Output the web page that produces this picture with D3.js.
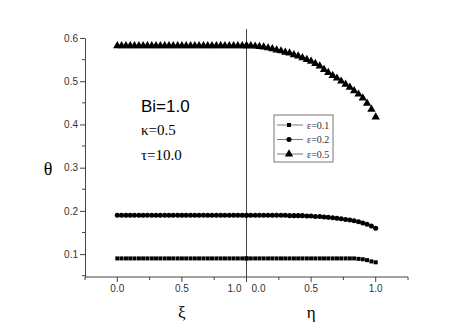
<!DOCTYPE html>
<html>
<head>
<meta charset="utf-8">
<script src="https://cdn.jsdelivr.net/npm/d3@7"></script>
<style>
  body { margin: 0; background: #fff; }
  svg { display: block; }
  .tick-label { font-family: Arial, "Liberation Sans", sans-serif; font-size: 10px; fill: #333; }
  .serif { font-family: "Liberation Serif", "Times New Roman", serif; }
</style>
</head>
<body>
<div id="chart"></div>
<script>
const width = 474;
const height = 331;

// Data ==============================================================
// grid of the two coordinates (xi on the left half, eta on the right half)
const grid = [0.000, 0.033, 0.067, 0.100, 0.133, 0.167, 0.200, 0.233, 0.267, 0.300, 0.333,
	0.367, 0.400, 0.433, 0.467, 0.500, 0.533, 0.567, 0.600, 0.633, 0.667, 0.700,
	0.733, 0.767, 0.800, 0.833, 0.867, 0.900, 0.933, 0.967, 1.000];

// theta along xi
const xiEps01 = [0.090, 0.090, 0.090, 0.090, 0.090, 0.090, 0.090, 0.090, 0.090, 0.090, 0.090,
	0.090, 0.090, 0.090, 0.090, 0.090, 0.090, 0.090, 0.090, 0.090, 0.090, 0.090,
	0.090, 0.090, 0.090, 0.090, 0.090, 0.090, 0.090, 0.090, 0.090];
const xiEps02 = [0.190, 0.190, 0.190, 0.190, 0.190, 0.190, 0.190, 0.190, 0.190, 0.190, 0.190,
	0.190, 0.190, 0.190, 0.190, 0.190, 0.190, 0.190, 0.190, 0.190, 0.190, 0.190,
	0.190, 0.190, 0.190, 0.190, 0.190, 0.190, 0.190, 0.190, 0.190];
const xiEps05 = [0.582, 0.582, 0.582, 0.582, 0.582, 0.582, 0.582, 0.582, 0.582, 0.582, 0.582,
	0.582, 0.582, 0.582, 0.582, 0.582, 0.582, 0.582, 0.582, 0.582, 0.582, 0.582,
	0.582, 0.582, 0.582, 0.582, 0.582, 0.582, 0.582, 0.582, 0.582];

// theta along eta
const etaEps01 = [0.090, 0.090, 0.090, 0.090, 0.090, 0.090, 0.090, 0.090, 0.090, 0.090, 0.090,
	0.090, 0.090, 0.090, 0.090, 0.090, 0.090, 0.090, 0.090, 0.090, 0.090, 0.090,
	0.090, 0.090, 0.090, 0.090, 0.089, 0.088, 0.086, 0.083, 0.081];
const etaEps02 = [0.190, 0.190, 0.190, 0.190, 0.190, 0.190, 0.190, 0.190, 0.190, 0.190, 0.189,
	0.189, 0.189, 0.189, 0.188, 0.188, 0.187, 0.187, 0.186, 0.185, 0.184, 0.183,
	0.182, 0.180, 0.179, 0.177, 0.175, 0.172, 0.169, 0.165, 0.160];
const etaEps05 = [0.582, 0.582, 0.581, 0.580, 0.579, 0.577, 0.575, 0.572, 0.570, 0.567, 0.565,
	0.561, 0.558, 0.554, 0.550, 0.546, 0.541, 0.535, 0.527, 0.520, 0.513, 0.507,
	0.500, 0.493, 0.486, 0.478, 0.470, 0.461, 0.449, 0.435, 0.417];

const seriesNames = ['ε=0.1', 'ε=0.2', 'ε=0.5'];
const seriesSymbols = [d3.symbolSquare, d3.symbolCircle, d3.symbolTriangle];
const seriesSizes = [16, 20, 30];

const yTicks = [0.1, 0.2, 0.3, 0.4, 0.5, 0.6];
const yMinorTicks = [0.05, 0.15, 0.25, 0.35, 0.45, 0.55];
const xiTicks = [0.0, 0.5, 1.0];
const etaTicks = [0.0, 0.5, 1.0];
const xiMinor = [-0.25, 0.25, 0.75];
const etaMinor = [0.25, 0.75, 1.25];
// ==================================================================

const svg = d3.select('#chart').append('svg').attr('width', width).attr('height', height);
svg.append('rect').attr('width', width).attr('height', height).attr('fill', '#fff');

// one horizontal scale: xi maps to [0,1], eta maps to [1,2]
const xScale = d3.scaleLinear().domain([-0.25, 2.25]).range([85, 408]);
const yScale = d3.scaleLinear().domain([0.047, 0.6]).range([277, 38]);
const xXi = (v) => xScale(v);
const xEta = (v) => xScale(1 + v);

const axisColor = '#444';

// Y axis
const yAxis = svg.append('g').attr('transform', `translate(${xScale(-0.25)},0)`);
yAxis.call(d3.axisLeft(yScale).tickValues(yTicks).tickFormat(d3.format('.1f')).tickSize(5).tickSizeOuter(0));
yAxis.select('.domain').attr('stroke', axisColor);
yAxis.selectAll('.tick line').attr('stroke', axisColor);
yAxis.selectAll('.tick text').attr('class', 'tick-label').attr('x', -7).style('font-size', '10px');
yAxis.attr('font-family', null).attr('font-size', null);
yAxis.selectAll('.minor').data(yMinorTicks).enter().append('line')
	.attr('x1', 0).attr('x2', -3)
	.attr('y1', (d) => yScale(d)).attr('y2', (d) => yScale(d))
	.attr('stroke', axisColor);

// X axis (bottom)
const xAxisG = svg.append('g').attr('transform', `translate(0,${yScale(0.047)})`);
xAxisG.append('line').attr('x1', xScale(-0.25)).attr('x2', xScale(2.25)).attr('stroke', axisColor);

const majorX = xiTicks.map((v) => ({ x: xXi(v), label: v.toFixed(1), dx: v === 1 ? -12 : 0 }))
	.concat(etaTicks.map((v) => ({ x: xEta(v), label: v.toFixed(1), dx: v === 0 ? 12 : 0 })));
xAxisG.selectAll('.xmaj').data(majorX).enter().append('line')
	.attr('x1', (d) => d.x).attr('x2', (d) => d.x)
	.attr('y1', 0).attr('y2', 5).attr('stroke', axisColor);
xAxisG.selectAll('.xlab').data(majorX).enter().append('text')
	.attr('class', 'tick-label')
	.attr('x', (d) => d.x + d.dx).attr('y', 15)
	.attr('text-anchor', 'middle')
	.text((d) => d.label);
const minorX = xiMinor.map(xXi).concat(etaMinor.map(xEta));
xAxisG.selectAll('.xmin').data(minorX).enter().append('line')
	.attr('x1', (d) => d).attr('x2', (d) => d)
	.attr('y1', 0).attr('y2', 3).attr('stroke', axisColor);

// divider between xi and eta
svg.append('line')
	.attr('x1', xXi(1)).attr('x2', xXi(1))
	.attr('y1', 29).attr('y2', yScale(0.047))
	.attr('stroke', axisColor);

// Axis titles
svg.append('text').attr('class', 'serif').attr('x', 48).attr('y', 175)
	.attr('text-anchor', 'middle').style('font-size', '18px').text('θ');
svg.append('text').attr('class', 'serif').attr('x', xXi(0.5)).attr('y', 318)
	.attr('text-anchor', 'middle').style('font-size', '17px').text('ξ');
svg.append('text').attr('class', 'serif').attr('x', xEta(0.5)).attr('y', 318)
	.attr('text-anchor', 'middle').style('font-size', '17px').text('η');

// Markers
const xiSeries = [xiEps01, xiEps02, xiEps05];
const etaSeries = [etaEps01, etaEps02, etaEps05];
const plot = svg.append('g');
seriesNames.forEach((name, i) => {
	const sym = d3.symbol().type(seriesSymbols[i]).size(seriesSizes[i]);
	const pts = grid.map((g, j) => ({ x: xXi(g), y: yScale(xiSeries[i][j]) }))
		.concat(grid.map((g, j) => ({ x: xEta(g), y: yScale(etaSeries[i][j]) })));
	plot.selectAll('.s' + i).data(pts).enter().append('path')
		.attr('d', sym)
		.attr('transform', (d) => `translate(${d.x},${d.y})`)
		.attr('fill', '#000');
});

// Annotations
svg.append('text').attr('x', 141).attr('y', 112)
	.style('font-family', 'Arial, "Liberation Sans", sans-serif').style('font-size', '17px')
	.text('Bi=1.0');
svg.append('text').attr('class', 'serif').attr('x', 141).attr('y', 135)
	.style('font-size', '15px').text('κ=0.5');
svg.append('text').attr('class', 'serif').attr('x', 141).attr('y', 160)
	.style('font-size', '15px').text('τ=10.0');

// Legend
const legend = svg.append('g').attr('transform', 'translate(274,115)');
legend.append('rect').attr('width', 59).attr('height', 47)
	.attr('fill', '#fff').attr('stroke', '#777');
seriesNames.forEach((name, i) => {
	const y = 10 + i * 14.5;
	legend.append('line').attr('x1', 3).attr('x2', 29).attr('y1', y).attr('y2', y)
		.attr('stroke', '#555').attr('stroke-width', 0.8);
	legend.append('path')
		.attr('d', d3.symbol().type(seriesSymbols[i]).size(seriesSizes[i])())
		.attr('transform', `translate(15,${y})`).attr('fill', '#000');
	legend.append('text').attr('class', 'serif').attr('x', 33).attr('y', y + 3.5)
		.style('font-size', '10px').attr('fill', '#333').text(name);
});
</script>
</body>
</html>
